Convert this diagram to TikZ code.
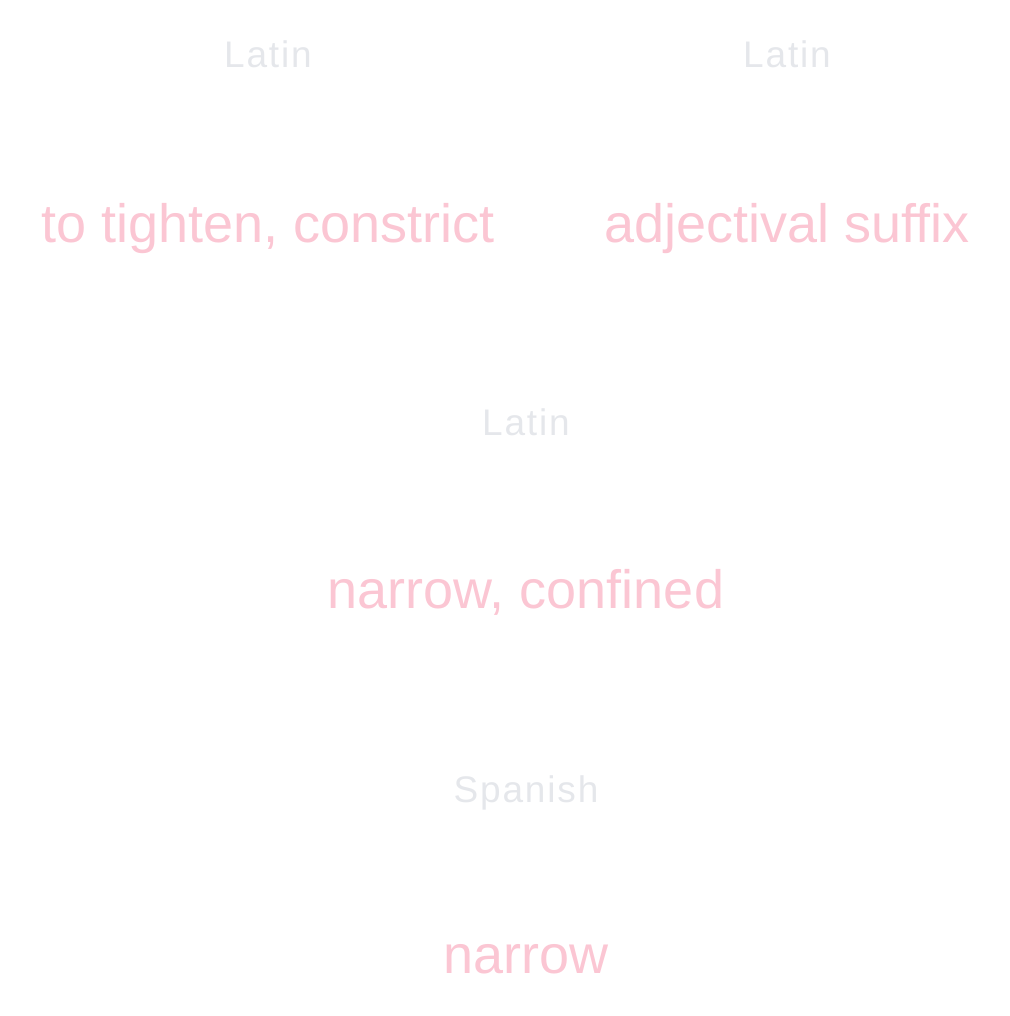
\documentclass[tikz,border=0pt]{standalone}
\usepackage{fontspec}
\setmainfont{Liberation Sans}
\newfontfamily\langfont[LetterSpace=5]{Liberation Sans}
\definecolor{langgray}{RGB}{229,231,235}
\definecolor{meaningpink}{RGB}{251,198,211}
\begin{document}
\begin{tikzpicture}[x=1pt,y=-1pt,
  lang/.style={anchor=base,inner sep=0pt,text=langgray,font=\langfont\fontsize{37}{37}\selectfont},
  meaning/.style={anchor=base,inner sep=0pt,text=meaningpink,font=\fontsize{54}{54}\selectfont}]
\useasboundingbox (0,0) rectangle (1009,1016);
\node[lang] (l1) at (268,68) {Latin};
\node[lang] (l2) at (787,68) {Latin};
\node[meaning] (m1) at (268,242) {to tighten, constrict};
\node[meaning] (m2) at (787,242) {adjectival suffix};
\node[lang] (l3) at (526,435) {Latin};
\node[meaning] (m3) at (526,608) {narrow, confined};
\node[lang] (l4) at (526,802) {Spanish};
\node[meaning] (m4) at (526,973) {narrow};
\end{tikzpicture}
\end{document}
